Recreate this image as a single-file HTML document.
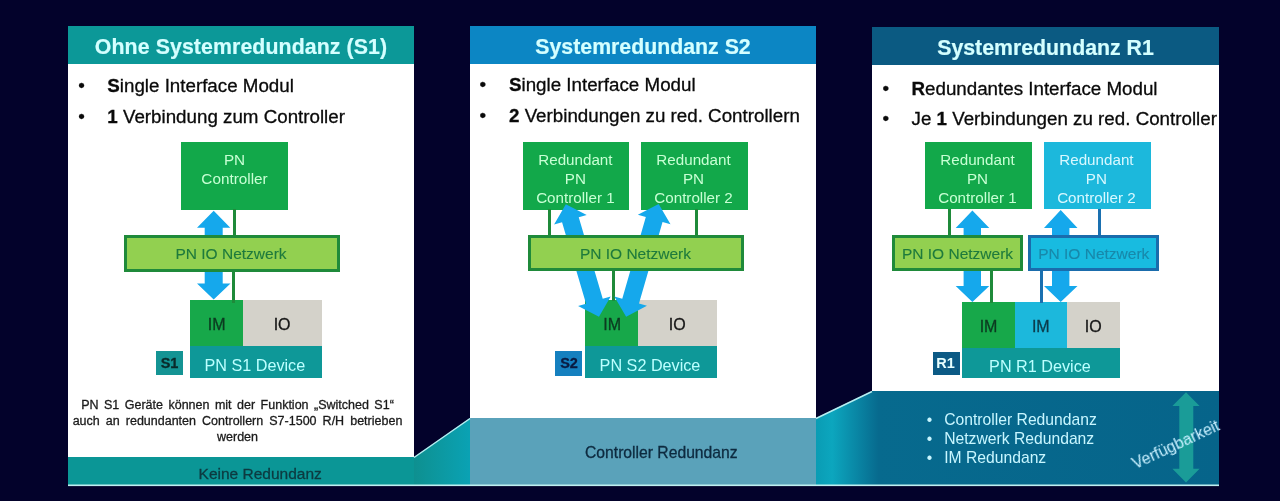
<!DOCTYPE html>
<html><head><meta charset="utf-8">
<style>
html,body{margin:0;padding:0;}
body{width:1280px;height:501px;overflow:hidden;background:#03022b;position:relative;font-family:"Liberation Sans",sans-serif;}
#root{position:absolute;left:0;top:0;width:1280px;height:501px;will-change:transform;}
.bul,.dot,.box,.a{-webkit-text-stroke:0.3px currentColor;}
.net{-webkit-text-stroke:0.12px currentColor;}
.hdr{-webkit-text-stroke:0.2px currentColor;}
.lt{-webkit-text-stroke:0 !important;}
.a{position:absolute;}
.hdr{position:absolute;color:#d4ffff;font-weight:bold;font-size:21.3px;text-align:center;line-height:43px;}
.body{position:absolute;background:#fff;}
.bul{position:absolute;font-size:18.75px;color:#0a0a0a;white-space:nowrap;line-height:22px;}
.dot{position:absolute;font-size:18.75px;color:#0a0a0a;line-height:22px;}
.box{position:absolute;text-align:center;font-size:15.5px;line-height:19px;white-space:nowrap;}
.net{position:absolute;box-sizing:border-box;border:3px solid #1f8a3a;background:#92d050;color:#1e7a3c;font-size:15.5px;text-align:center;white-space:nowrap;}
.vl{position:absolute;width:3px;}
svg{position:absolute;left:0;top:0;}
</style></head>
<body><div id="root">
<!-- panel S1 -->
<div class="hdr" style="left:68px;top:26px;width:346px;height:37.5px;background:#0c9898;"><span style="letter-spacing:0.1px">Ohne Systemredundanz (S1)</span></div>
<div class="body" style="left:68px;top:63.5px;width:346px;height:394px;"></div>
<div class="a" style="left:68px;top:457px;width:346px;height:28px;background:#0b9696;"></div>
<!-- panel S2 -->
<div class="hdr" style="left:470px;top:26px;width:346px;height:37.5px;background:#0c86c4;">Systemredundanz S2</div>
<div class="body" style="left:470px;top:63.5px;width:346px;height:355px;"></div>
<div class="a" style="left:470px;top:418px;width:346px;height:67px;background:#5aa2ba;"></div>
<!-- panel R1 -->
<div class="hdr" style="left:872px;top:27px;width:347px;height:37.5px;background:#0b5a82;">Systemredundanz R1</div>
<div class="body" style="left:872px;top:64.5px;width:347px;height:327px;"></div>
<div class="a" style="left:872px;top:391px;width:347px;height:94px;background:#0b6286;"></div>

<svg width="1280" height="501">
<defs>
<linearGradient id="w1" x1="0" x2="1" y1="0" y2="0"><stop offset="0" stop-color="#0e9090"/><stop offset="1" stop-color="#0aa2b4"/></linearGradient>
<linearGradient id="w2" gradientUnits="userSpaceOnUse" x1="816" x2="1219" y1="0" y2="0"><stop offset="0" stop-color="#0a9cb4"/><stop offset="0.04" stop-color="#0ca6be"/><stop offset="0.155" stop-color="#076a8e"/><stop offset="1" stop-color="#06648a"/></linearGradient>
</defs>
<polygon points="414,457 470,418 470,485 414,485" fill="url(#w1)"/>
<polygon points="816,418 872,391 1219,391 1219,485 816,485" fill="url(#w2)"/>
<line x1="414" y1="457.5" x2="470" y2="418.5" stroke="#b8eef0" stroke-width="1.5"/>
<line x1="816" y1="418.5" x2="872" y2="391.5" stroke="#b8eef0" stroke-width="1.5"/>
<rect x="68" y="484.5" width="1151" height="1.6" fill="#bfeff0"/>
</svg>

<!-- bullets S1 -->
<div class="dot" style="left:78.2px;top:75px;">•</div>
<div class="bul" style="left:107.3px;top:74.5px;"><b>S</b>ingle Interface Modul</div>
<div class="dot" style="left:78.2px;top:106px;">•</div>
<div class="bul" style="left:107.3px;top:105.5px;"><b>1</b> Verbindung zum Controller</div>
<!-- bullets S2 -->
<div class="dot" style="left:479.5px;top:74px;">•</div>
<div class="bul" style="left:509px;top:73.8px;"><b>S</b>ingle Interface Modul</div>
<div class="dot" style="left:479.5px;top:105px;">•</div>
<div class="bul" style="left:509px;top:105px;"><b>2</b> Verbindungen zu red. Controllern</div>
<!-- bullets R1 -->
<div class="dot" style="left:882.5px;top:77.5px;">•</div>
<div class="bul" style="left:911.5px;top:77.8px;"><b>R</b>edundantes Interface Modul</div>
<div class="dot" style="left:882.5px;top:108px;">•</div>
<div class="bul" style="left:911.5px;top:107.8px;">Je <b>1</b> Verbindungen zu red. Controller</div>

<!-- S1 diagram -->
<div class="box lt" style="left:181px;top:141.5px;width:107px;height:68px;background:#12a84a;color:#c8ffd4;"><div style="padding-top:8.3px;font-size:15.3px;line-height:19.2px;">PN<br>Controller</div></div>
<div class="a" style="left:190px;top:300.3px;width:52.5px;height:46px;background:#17a84a;"></div>
<div class="a" style="left:242.5px;top:300.3px;width:79.2px;height:46px;background:#d4d2ca;"></div>
<div class="a" style="left:190px;top:346.3px;width:131.7px;height:31.3px;background:#0e9898;"></div>
<div class="a" style="left:156px;top:351px;width:27px;height:24px;background:#149494;"></div>
<div class="vl" style="left:233.2px;top:209px;height:26px;background:#1f8a3a;"></div>
<div class="vl" style="left:232px;top:271px;height:32px;background:#1f8a3a;"></div>

<!-- S2 diagram -->
<div class="box lt" style="left:523.3px;top:142.4px;width:106.2px;height:67.2px;background:#12a84a;color:#c8ffd4;"></div>
<div class="box lt" style="left:641.2px;top:142.4px;width:106.7px;height:67.2px;background:#12a84a;color:#c8ffd4;"></div>
<div class="a" style="left:585.4px;top:300.3px;width:52.5px;height:46px;background:#17a84a;"></div>
<div class="a" style="left:637.9px;top:300.3px;width:78.7px;height:46px;background:#d4d2ca;"></div>
<div class="a" style="left:585.4px;top:346.3px;width:131.2px;height:31.3px;background:#0e9898;"></div>
<div class="a" style="left:555px;top:351px;width:27px;height:24.5px;background:#1580bf;"></div>
<div class="vl" style="left:548px;top:209px;height:27px;background:#1f8a3a;"></div>
<div class="vl" style="left:695px;top:209px;height:27px;background:#1f8a3a;"></div>
<div class="vl" style="left:612px;top:271px;height:30px;background:#1f8a3a;"></div>

<!-- R1 diagram -->
<div class="box" style="left:925.3px;top:142.2px;width:106.3px;height:67.2px;background:#12a84a;"></div>
<div class="box" style="left:1044px;top:142.2px;width:106.8px;height:67.2px;background:#1cb8dc;"></div>
<div class="a" style="left:962.3px;top:302px;width:52.5px;height:46px;background:#17a84a;"></div>
<div class="a" style="left:1014.8px;top:302px;width:52px;height:46px;background:#1cb8dc;"></div>
<div class="a" style="left:1066.8px;top:302px;width:52.8px;height:46px;background:#d4d2ca;"></div>
<div class="a" style="left:962.3px;top:348px;width:157.3px;height:30.2px;background:#0e9898;"></div>
<div class="a" style="left:933px;top:351.5px;width:27px;height:23.3px;background:#0c5a85;"></div>
<div class="vl" style="left:947.5px;top:209px;height:27px;background:#1f8a3a;"></div>
<div class="vl" style="left:1098px;top:209px;height:27px;background:#1a70b0;"></div>
<div class="vl" style="left:990px;top:271px;height:32px;background:#1f8a3a;"></div>
<div class="vl" style="left:1040px;top:271px;height:32px;background:#1a70b0;"></div>

<!-- arrows -->
<svg width="1280" height="501">
<g fill="#15a8ec">
<!-- S1 -->
<polygon points="213.7,210.7 230.3,227.7 222.7,227.7 222.7,283.4 230.5,283.4 213.7,299.6 197,283.4 204.7,283.4 204.7,227.7 197,227.7"/>
<!-- R1 left -->
<polygon points="972.4,210.5 989.3,227.9 981,227.9 981,286.1 989.3,286.1 972.4,302.1 955.7,286.1 963.6,286.1 963.6,227.9 955.7,227.9"/>
<!-- R1 right -->
<polygon points="1060.7,210 1077.5,227.9 1069.4,227.9 1069.4,286.1 1077.5,286.1 1060.7,302.1 1044,286.1 1052,286.1 1052,227.9 1044,227.9"/>
<!-- S2 left: length ~117.5 centered, rotated -->
<g transform="translate(582.4,260.5) rotate(-16.4)">
<polygon points="0,-58.7 17,-42.5 8.7,-42.5 8.7,42.5 17,42.5 0,58.7 -17,42.5 -8.7,42.5 -8.7,-42.5 -17,-42.5"/>
</g>
<g transform="translate(642.4,260.3) rotate(16.1)">
<polygon points="0,-58.7 17,-42.5 8.7,-42.5 8.7,42.5 17,42.5 0,58.7 -17,42.5 -8.7,42.5 -8.7,-42.5 -17,-42.5"/>
</g>
</g>
<!-- Verfuegbarkeit arrow -->
<polygon fill="#1a9c98" points="1186,392.3 1199.6,406 1193.3,406 1193.3,468.8 1199.6,468.8 1186,482.4 1172.4,468.8 1179.3,468.8 1179.3,406 1172.4,406"/>
</svg>

<!-- network boxes -->
<div class="net" style="left:124px;top:235.2px;width:216px;height:36.5px;line-height:32.8px;padding-right:2px;">PN IO Netzwerk</div>
<div class="net" style="left:528.2px;top:235.4px;width:215.5px;height:36px;line-height:32px;padding-right:1px;">PN IO Netzwerk</div>
<div class="net" style="left:892.2px;top:235.1px;width:130.7px;height:36.3px;line-height:32px;">PN IO Netzwerk</div>
<div class="net" style="left:1028.2px;top:235.1px;width:131.2px;height:35.6px;line-height:32px;border-color:#1a6cac;background:#18bbe0;color:#1888aa;">PN IO Netzwerk</div>

<!-- diagram text -->
<div class="box lt" style="left:522.3px;top:151.4px;width:106.2px;color:#c8ffd4;font-size:15.2px;line-height:18.8px;">Redundant<br>PN<br>Controller 1</div>
<div class="box lt" style="left:640.2px;top:151.4px;width:106.7px;color:#c8ffd4;font-size:15.2px;line-height:18.8px;">Redundant<br>PN<br>Controller 2</div>
<div class="box lt" style="left:924.3px;top:151.4px;width:106.3px;color:#c8ffd4;font-size:15.2px;line-height:18.8px;">Redundant<br>PN<br>Controller 1</div>
<div class="box lt" style="left:1043px;top:151.4px;width:106.8px;color:#d8f8ff;font-size:15.2px;line-height:18.8px;">Redundant<br>PN<br>Controller 2</div>

<div class="box" style="left:190.5px;top:315.1px;width:52.5px;color:#0c3a20;font-size:16px;">IM</div>
<div class="box" style="left:242.5px;top:315.1px;width:79.2px;color:#151515;font-size:16px;">IO</div>
<div class="box lt" style="left:189px;top:356.3px;width:131.7px;color:#bcffff;font-size:16.2px;">PN S1 Device</div>
<div class="box" style="left:156px;top:354.4px;width:27px;color:#0a2a2a;font-size:14.5px;font-weight:bold;">S1</div>

<div class="box" style="left:585.9px;top:315.1px;width:52.5px;color:#0c3a20;font-size:16px;">IM</div>
<div class="box" style="left:637.9px;top:315.1px;width:78.7px;color:#151515;font-size:16px;">IO</div>
<div class="box lt" style="left:584.4px;top:356.3px;width:131.2px;color:#bcffff;font-size:16.2px;">PN S2 Device</div>
<div class="box" style="left:555.5px;top:354.4px;width:27px;color:#0a1a40;font-size:14.5px;font-weight:bold;">S2</div>

<div class="box" style="left:962.3px;top:317.1px;width:52.5px;color:#0c3a20;font-size:16px;">IM</div>
<div class="box" style="left:1014.8px;top:317.1px;width:52px;color:#0c3a4a;font-size:16px;">IM</div>
<div class="box" style="left:1066.8px;top:317.1px;width:52.8px;color:#151515;font-size:16px;">IO</div>
<div class="box lt" style="left:961.3px;top:356.7px;width:157.3px;color:#bcffff;font-size:16.2px;">PN R1 Device</div>
<div class="box lt" style="left:932px;top:354.4px;width:27px;color:#e8ffff;font-size:14.5px;font-weight:bold;">R1</div>

<!-- note -->
<div class="a" style="left:68px;top:397.4px;width:339px;text-align:center;font-size:12.5px;word-spacing:2px;line-height:16px;color:#1a1a1a;">PN S1 Geräte können mit der Funktion „Switched S1“<br><span style="word-spacing:2.6px">auch an redundanten Controllern S7-1500 R/H betrieben</span><br>werden</div>

<!-- bar texts -->
<div class="a" style="left:198.6px;top:465px;font-size:15.5px;line-height:18px;color:#0d3a40;white-space:nowrap;">Keine Redundanz</div>
<div class="a" style="left:585px;top:443.8px;font-size:15.7px;line-height:18px;color:#0d2a3f;white-space:nowrap;">Controller Redundanz</div>
<div class="a lt" style="left:926.7px;top:411px;font-size:15.7px;line-height:18.9px;color:#c8f6ff;white-space:nowrap;">
<div><span style="display:inline-block;width:17.5px;">•</span>Controller Redundanz</div>
<div><span style="display:inline-block;width:17.5px;">•</span>Netzwerk Redundanz</div>
<div><span style="display:inline-block;width:17.5px;">•</span>IM Redundanz</div>
</div>
<div class="a lt" style="left:1137px;top:454.5px;font-size:16px;line-height:18px;color:#c8f0ff;white-space:nowrap;transform-origin:0 100%;transform:rotate(-25deg);">Verfügbarkeit</div>
</div></body></html>
